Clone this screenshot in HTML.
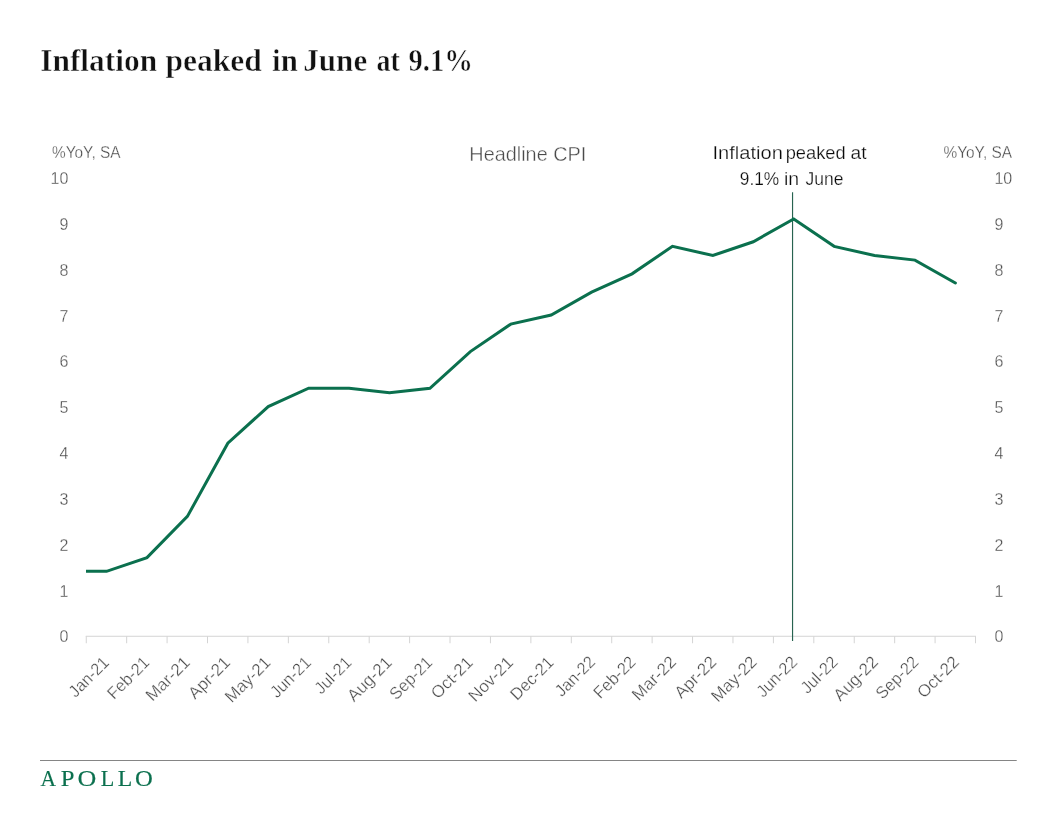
<!DOCTYPE html>
<html lang="en">
<head>
<meta charset="utf-8">
<title>Inflation peaked in June at 9.1%</title>
<style>
html,body{margin:0;padding:0;background:#fff;}
body{width:1056px;height:816px;overflow:hidden;position:relative;}
svg{position:absolute;left:0;top:0;display:block;}
.sans{font-family:"Liberation Sans",sans-serif;}
.serif{font-family:"Liberation Serif",serif;}
.ax{font-family:"Liberation Sans",sans-serif;font-size:16px;fill:#4a4a4a;stroke:#fff;stroke-width:0.3px;}
.thin{stroke:#fff;stroke-width:0.4px;}
</style>
</head>
<body>
<svg width="1056" height="816" viewBox="0 0 1056 816">
<text class="serif" y="70.7" font-size="30.5" font-weight="bold" fill="#111" stroke="#fff" stroke-width="0.5"><tspan x="40.2" textLength="117.0" lengthAdjust="spacingAndGlyphs">Inflation</tspan> <tspan x="165.4" textLength="96.5" lengthAdjust="spacingAndGlyphs">peaked</tspan> <tspan x="272.1" textLength="25.7" lengthAdjust="spacingAndGlyphs">in</tspan> <tspan x="303.3" textLength="63.9" lengthAdjust="spacingAndGlyphs">June</tspan> <tspan x="376.4" textLength="23.4" lengthAdjust="spacingAndGlyphs">at</tspan> <tspan x="408.5" textLength="64.4" lengthAdjust="spacingAndGlyphs">9.1%</tspan></text>
<text class="ax" x="52" y="158.2" textLength="68.5" lengthAdjust="spacingAndGlyphs">%YoY, SA</text>
<text class="ax" x="943.5" y="158.2" textLength="68.5" lengthAdjust="spacingAndGlyphs">%YoY, SA</text>
<text class="sans thin" x="469.3" y="160.5" font-size="20.6" fill="#4a4a4a" textLength="117" lengthAdjust="spacingAndGlyphs">Headline CPI</text>
<text class="sans" y="158.7" font-size="17.8" fill="#0a0a0a" stroke="#fff" stroke-width="0.25"><tspan x="712.5" textLength="70.4" lengthAdjust="spacingAndGlyphs">Inflation</tspan> <tspan x="785.7" textLength="60.0" lengthAdjust="spacingAndGlyphs">peaked</tspan> <tspan x="850.6" textLength="16.0" lengthAdjust="spacingAndGlyphs">at</tspan></text>
<text class="sans" y="184.6" font-size="17.8" fill="#0a0a0a" stroke="#fff" stroke-width="0.25"><tspan x="739.8" textLength="39.4" lengthAdjust="spacingAndGlyphs">9.1%</tspan> <tspan x="783.9" textLength="15.2" lengthAdjust="spacingAndGlyphs">in</tspan> <tspan x="805.5" textLength="37.9" lengthAdjust="spacingAndGlyphs">June</tspan></text>
<text class="ax" x="68.3" y="642.45" text-anchor="end">0</text>
<text class="ax" x="994.4" y="642.45">0</text>
<text class="ax" x="68.3" y="596.60" text-anchor="end">1</text>
<text class="ax" x="994.4" y="596.60">1</text>
<text class="ax" x="68.3" y="550.75" text-anchor="end">2</text>
<text class="ax" x="994.4" y="550.75">2</text>
<text class="ax" x="68.3" y="504.90" text-anchor="end">3</text>
<text class="ax" x="994.4" y="504.90">3</text>
<text class="ax" x="68.3" y="459.05" text-anchor="end">4</text>
<text class="ax" x="994.4" y="459.05">4</text>
<text class="ax" x="68.3" y="413.20" text-anchor="end">5</text>
<text class="ax" x="994.4" y="413.20">5</text>
<text class="ax" x="68.3" y="367.35" text-anchor="end">6</text>
<text class="ax" x="994.4" y="367.35">6</text>
<text class="ax" x="68.3" y="321.50" text-anchor="end">7</text>
<text class="ax" x="994.4" y="321.50">7</text>
<text class="ax" x="68.3" y="275.65" text-anchor="end">8</text>
<text class="ax" x="994.4" y="275.65">8</text>
<text class="ax" x="68.3" y="229.80" text-anchor="end">9</text>
<text class="ax" x="994.4" y="229.80">9</text>
<text class="ax" x="68.3" y="183.95" text-anchor="end">10</text>
<text class="ax" x="994.4" y="183.95">10</text>
<g stroke="#d4d4d4" stroke-width="1" fill="none">
<path d="M85.75 636.25 H976.00"/>
<path d="M86.25 636.25 v7 M126.67 636.25 v7 M167.09 636.25 v7 M207.51 636.25 v7 M247.93 636.25 v7 M288.35 636.25 v7 M328.77 636.25 v7 M369.19 636.25 v7 M409.61 636.25 v7 M450.03 636.25 v7 M490.45 636.25 v7 M530.88 636.25 v7 M571.30 636.25 v7 M611.72 636.25 v7 M652.14 636.25 v7 M692.56 636.25 v7 M732.98 636.25 v7 M773.40 636.25 v7 M813.82 636.25 v7 M854.24 636.25 v7 M894.66 636.25 v7 M935.08 636.25 v7 M975.50 636.25 v7"/>
</g>
<path d="M792.55 192.2 V641" stroke="#276350" stroke-width="1.15" fill="none"/>
<clipPath id="plot"><rect x="86.05" y="150" width="900" height="500"/></clipPath>
<polyline clip-path="url(#plot)" fill="none" stroke="#0b704e" stroke-width="3" stroke-linejoin="miter" stroke-linecap="round" points="76.25,571.32 106.56,571.32 146.98,557.59 187.40,516.40 227.82,443.17 268.24,406.55 308.66,388.24 349.08,388.24 389.50,392.82 429.92,388.24 470.34,351.63 510.76,324.16 551.19,315.01 591.61,292.12 632.03,273.82 672.45,246.35 712.87,255.51 753.29,241.78 793.71,218.89 834.13,246.35 874.55,255.51 914.97,260.09 955.39,282.97"/>
<text class="ax" style="font-size:17px" text-anchor="end" transform="translate(110.06 663.60) rotate(-45)" textLength="48.9" lengthAdjust="spacingAndGlyphs">Jan-21</text>
<text class="ax" style="font-size:17px" text-anchor="end" transform="translate(150.48 663.60) rotate(-45)" textLength="51.7" lengthAdjust="spacingAndGlyphs">Feb-21</text>
<text class="ax" style="font-size:17px" text-anchor="end" transform="translate(190.90 663.60) rotate(-45)" textLength="54.3" lengthAdjust="spacingAndGlyphs">Mar-21</text>
<text class="ax" style="font-size:17px" text-anchor="end" transform="translate(231.32 663.60) rotate(-45)" textLength="51.4" lengthAdjust="spacingAndGlyphs">Apr-21</text>
<text class="ax" style="font-size:17px" text-anchor="end" transform="translate(271.74 663.60) rotate(-45)" textLength="56.5" lengthAdjust="spacingAndGlyphs">May-21</text>
<text class="ax" style="font-size:17px" text-anchor="end" transform="translate(312.16 663.60) rotate(-45)" textLength="49.8" lengthAdjust="spacingAndGlyphs">Jun-21</text>
<text class="ax" style="font-size:17px" text-anchor="end" transform="translate(352.58 663.60) rotate(-45)" textLength="44.4" lengthAdjust="spacingAndGlyphs">Jul-21</text>
<text class="ax" style="font-size:17px" text-anchor="end" transform="translate(393.00 663.60) rotate(-45)" textLength="55.0" lengthAdjust="spacingAndGlyphs">Aug-21</text>
<text class="ax" style="font-size:17px" text-anchor="end" transform="translate(433.42 663.60) rotate(-45)" textLength="52.4" lengthAdjust="spacingAndGlyphs">Sep-21</text>
<text class="ax" style="font-size:17px" text-anchor="end" transform="translate(473.84 663.60) rotate(-45)" textLength="51.0" lengthAdjust="spacingAndGlyphs">Oct-21</text>
<text class="ax" style="font-size:17px" text-anchor="end" transform="translate(514.26 663.60) rotate(-45)" textLength="55.3" lengthAdjust="spacingAndGlyphs">Nov-21</text>
<text class="ax" style="font-size:17px" text-anchor="end" transform="translate(554.69 663.60) rotate(-45)" textLength="53.2" lengthAdjust="spacingAndGlyphs">Dec-21</text>
<text class="ax" style="font-size:17px" text-anchor="end" transform="translate(596.31 663.00) rotate(-45)" textLength="48.9" lengthAdjust="spacingAndGlyphs">Jan-22</text>
<text class="ax" style="font-size:17px" text-anchor="end" transform="translate(636.73 663.00) rotate(-45)" textLength="51.7" lengthAdjust="spacingAndGlyphs">Feb-22</text>
<text class="ax" style="font-size:17px" text-anchor="end" transform="translate(677.15 663.00) rotate(-45)" textLength="54.3" lengthAdjust="spacingAndGlyphs">Mar-22</text>
<text class="ax" style="font-size:17px" text-anchor="end" transform="translate(717.57 663.00) rotate(-45)" textLength="51.4" lengthAdjust="spacingAndGlyphs">Apr-22</text>
<text class="ax" style="font-size:17px" text-anchor="end" transform="translate(757.99 663.00) rotate(-45)" textLength="56.5" lengthAdjust="spacingAndGlyphs">May-22</text>
<text class="ax" style="font-size:17px" text-anchor="end" transform="translate(798.41 663.00) rotate(-45)" textLength="49.8" lengthAdjust="spacingAndGlyphs">Jun-22</text>
<text class="ax" style="font-size:17px" text-anchor="end" transform="translate(838.83 663.00) rotate(-45)" textLength="44.4" lengthAdjust="spacingAndGlyphs">Jul-22</text>
<text class="ax" style="font-size:17px" text-anchor="end" transform="translate(879.25 663.00) rotate(-45)" textLength="55.0" lengthAdjust="spacingAndGlyphs">Aug-22</text>
<text class="ax" style="font-size:17px" text-anchor="end" transform="translate(919.67 663.00) rotate(-45)" textLength="52.4" lengthAdjust="spacingAndGlyphs">Sep-22</text>
<text class="ax" style="font-size:17px" text-anchor="end" transform="translate(960.09 663.00) rotate(-45)" textLength="51.0" lengthAdjust="spacingAndGlyphs">Oct-22</text>
<rect x="40" y="760" width="976.7" height="1" fill="#858585"/>
<text class="serif" y="785.6" font-size="22.8" fill="#0b704e" stroke="#0b704e" stroke-width="0.15"><tspan x="40.50" textLength="15.50" lengthAdjust="spacingAndGlyphs">A</tspan><tspan x="60.70" textLength="13.70" lengthAdjust="spacingAndGlyphs">P</tspan><tspan x="77.50" textLength="18.80" lengthAdjust="spacingAndGlyphs">O</tspan><tspan x="100.70" textLength="13.50" lengthAdjust="spacingAndGlyphs">L</tspan><tspan x="117.70" textLength="14.50" lengthAdjust="spacingAndGlyphs">L</tspan><tspan x="135.10" textLength="17.80" lengthAdjust="spacingAndGlyphs">O</tspan></text>
</svg>
</body>
</html>
